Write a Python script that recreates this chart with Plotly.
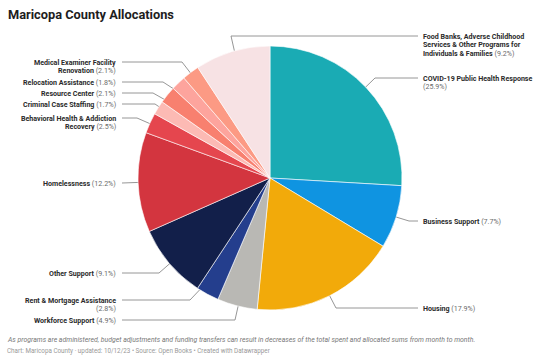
import math
import plotly.graph_objects as go

# ---- data ----
categories = [
    "COVID-19 Public Health Response",
    "Business Support",
    "Housing",
    "Workforce Support",
    "Rent & Mortgage Assistance",
    "Other Support",
    "Homelessness",
    "Behavioral Health & Addiction Recovery",
    "Criminal Case Staffing",
    "Resource Center",
    "Relocation Assistance",
    "Medical Examiner Facility Renovation",
    "Food Banks, Adverse Childhood Services & Other Programs for Individuals & Families",
]
shares = [25.9, 7.7, 17.9, 4.9, 2.8, 9.1, 12.2, 2.5, 1.7, 2.1, 1.8, 2.1, 9.2]
colors = ["#1aabb4", "#0f94e1", "#f2aa0a", "#b9b8b4", "#243e8d", "#121f4a", "#d3353f",
          "#e5464e", "#fcbab4", "#f8806f", "#fda49d", "#fc9a84", "#f7e2e4"]
label_lines = [
    ["COVID-19 Public Health Response"],
    ["Business Support"],
    ["Housing"],
    ["Workforce Support"],
    ["Rent & Mortgage Assistance"],
    ["Other Support"],
    ["Homelessness"],
    ["Behavioral Health & Addiction", "Recovery"],
    ["Criminal Case Staffing"],
    ["Resource Center"],
    ["Relocation Assistance"],
    ["Medical Examiner Facility", "Renovation"],
    ["Food Banks, Adverse Childhood", "Services & Other Programs for", "Individuals & Families"],
]
pct_own_line = [True, False, False, False, True, False, False, False, False, False, False, False, False]

# ---- layout (positions) ----
W, H = 540, 361
CX, CY, R = 270, 178, 132
label_side = ["r", "r", "r", "l", "l", "l", "l", "l", "l", "l", "l", "l", "r"]
label_y = [78, 221, 308, 320, 300, 273, 183, 118, 104, 93, 82, 62, 36]
bend_x = [375, 409, 336, 235, 190, 159, None, 137, 155, 153, 163, 182, 231]
LEFT_TEXT_X, LEFT_LINE_X = 118, 122
RIGHT_TEXT_X, RIGHT_LINE_X = 421, 418
LINE_H = 8.7
LFS = 7.1

fig = go.Figure()
fig.add_trace(go.Pie(
    values=shares, labels=categories, sort=False, direction="clockwise", rotation=0,
    marker=dict(colors=colors, line=dict(color="white", width=0.6)),
    textinfo="none", hoverinfo="label+percent", showlegend=False,
    domain=dict(x=[(CX - R) / W, (CX + R) / W], y=[(H - CY - R) / H, (H - CY + R) / H]),
))

total = sum(shares)
cum = 0
annotations = []
for i, v in enumerate(shares):
    mid = (cum + v / 2) / total * 2 * math.pi
    cum += v
    dx = CX + 0.75 * R * math.sin(mid)
    dy = CY - 0.75 * R * math.cos(mid)
    ly = label_y[i]
    left = label_side[i] == "l"
    line_x = LEFT_LINE_X if left else RIGHT_LINE_X
    xs = [line_x] + ([bend_x[i]] if bend_x[i] else []) + [dx]
    ys = [ly] + ([ly] if bend_x[i] else []) + [dy]
    fig.add_trace(go.Scatter(x=xs, y=ys, mode="lines", line=dict(color="#8a8a8a", width=0.9),
                             hoverinfo="skip", showlegend=False))
    fig.add_trace(go.Scatter(x=[dx], y=[dy], mode="markers", marker=dict(color="#333", size=3.5),
                             hoverinfo="skip", showlegend=False))
    pct = f"<span style='color:#6b6b6b'>({v}%)</span>"
    rows = [f"<b>{t}</b>" for t in label_lines[i]]
    if pct_own_line[i]:
        rows.append(pct)
    else:
        rows[-1] += " " + pct
    for j, txt in enumerate(rows):
        annotations.append(dict(
            x=LEFT_TEXT_X if left else RIGHT_TEXT_X, y=ly + j * LINE_H, xref="x", yref="y",
            text=txt, showarrow=False, xanchor="right" if left else "left", yanchor="middle",
            font=dict(size=LFS, color="#2a2a2a")))

annotations += [
    dict(x=6, y=14, xref="x", yref="y", text="<b>Maricopa County Allocations</b>", showarrow=False,
         xanchor="left", yanchor="middle", font=dict(size=12.8, color="#1d1d1d")),
    dict(x=5, y=340, xref="x", yref="y",
         text="<i>As programs are administered, budget adjustments and funding transfers can result in decreases of the total spent and allocated sums from month to month.</i>",
         showarrow=False, xanchor="left", yanchor="middle", font=dict(size=6.9, color="#777")),
    dict(x=5, y=351, xref="x", yref="y",
         text="Chart: Maricopa County · updated: 10/12/23 • Source: Open Books • Created with Datawrapper",
         showarrow=False, xanchor="left", yanchor="middle", font=dict(size=6.3, color="#999")),
]

fig.update_layout(
    width=W, height=H, margin=dict(l=0, r=0, t=0, b=0),
    paper_bgcolor="white", plot_bgcolor="rgba(0,0,0,0)",
    font=dict(family="Roboto, Arial, sans-serif"),
    xaxis=dict(range=[0, W], visible=False, fixedrange=True, domain=[0, 1]),
    yaxis=dict(range=[H, 0], visible=False, fixedrange=True, domain=[0, 1]),
    annotations=annotations, showlegend=False,
)
fig.write_html("out.html", config={"displayModeBar": False},
               post_script="document.body.style.margin='0';document.body.style.overflow='hidden';")
